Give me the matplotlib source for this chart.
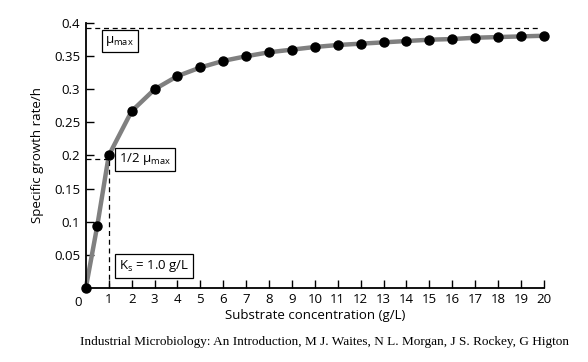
import matplotlib
matplotlib.use("Agg")
import matplotlib.pyplot as plt

# substrate (g/L) and specific growth rate (1/h)
substrato = [0, 0.5, 1, 2, 3, 4, 5, 6, 7, 8, 9, 10, 11, 12, 13, 14, 15, 16, 17, 18, 19, 20]
taxa = [0, 0.094, 0.2, 0.267, 0.3, 0.32, 0.333, 0.343, 0.35, 0.356, 0.36, 0.364,
        0.367, 0.369, 0.371, 0.373, 0.375, 0.376, 0.378, 0.379, 0.38, 0.381]
mu_max = 0.392
meio_mu = 0.195
ks = 1.0
xticks = list(range(1, 21))
yticks = [0.05, 0.1, 0.15, 0.2, 0.25, 0.3, 0.35, 0.4]

plt.rcParams['font.family'] = ['Open Sans', 'DejaVu Sans']

fig = plt.figure(figsize=(5.88, 3.62), dpi=100)
ax = fig.add_axes([0.146, 0.205, 0.779, 0.731])

ax.plot(substrato, taxa, color='#808080', lw=3.2, zorder=2, clip_on=False)
ax.plot(substrato, taxa, 'o', color='black', ms=6.5, zorder=3, clip_on=False)

# linhas tracejadas
ax.plot([0, 19.8], [mu_max, mu_max], '--', color='black', lw=0.9, dashes=(4, 3))
ax.plot([0, ks], [meio_mu, meio_mu], '--', color='black', lw=0.9, dashes=(4, 3))
ax.plot([ks, ks], [0, meio_mu], '--', color='black', lw=0.9, dashes=(4, 3))

caixa = dict(boxstyle='square,pad=0.28', fc='white', ec='black', lw=0.9)
ax.text(0.85, 0.373, r'$\mathregular{\mu_{max}}$', fontsize=9.5, va='center', ha='left', bbox=caixa)
ax.text(1.45, 0.194, r'1/2 $\mathregular{\mu_{max}}$', fontsize=9.5, va='center', ha='left', bbox=caixa)
ax.text(1.45, 0.033, r'K$\mathregular{_s}$ = 1.0 g/L', fontsize=9.5, va='center', ha='left', bbox=caixa)

ax.set_xlim(0, 20)
ax.set_ylim(0, 0.4)
ax.set_xticks(xticks)
ax.set_yticks(yticks)
ax.set_yticklabels([f'{v:g}' for v in yticks])
ax.tick_params(direction='in', length=6, width=1, labelsize=9.5, pad=4)
ax.text(-0.35, -0.012, '0', fontsize=9.5, ha='center', va='top')
for lado in ['top', 'right']:
    ax.spines[lado].set_visible(False)
for lado in ['left', 'bottom']:
    ax.spines[lado].set_linewidth(1.3)

ax.set_xlabel('Substrate concentration (g/L)', fontsize=9.5, labelpad=2)
ax.set_ylabel('Specific growth rate/h', fontsize=9.5, labelpad=7)

fig.text(0.968, 0.055, 'Industrial Microbiology: An Introduction, M J. Waites, N L. Morgan, J S. Rockey, G Higton',
         fontsize=9.5, ha='right', va='center', family='Liberation Serif')

fig.savefig('out.png', dpi=100)
